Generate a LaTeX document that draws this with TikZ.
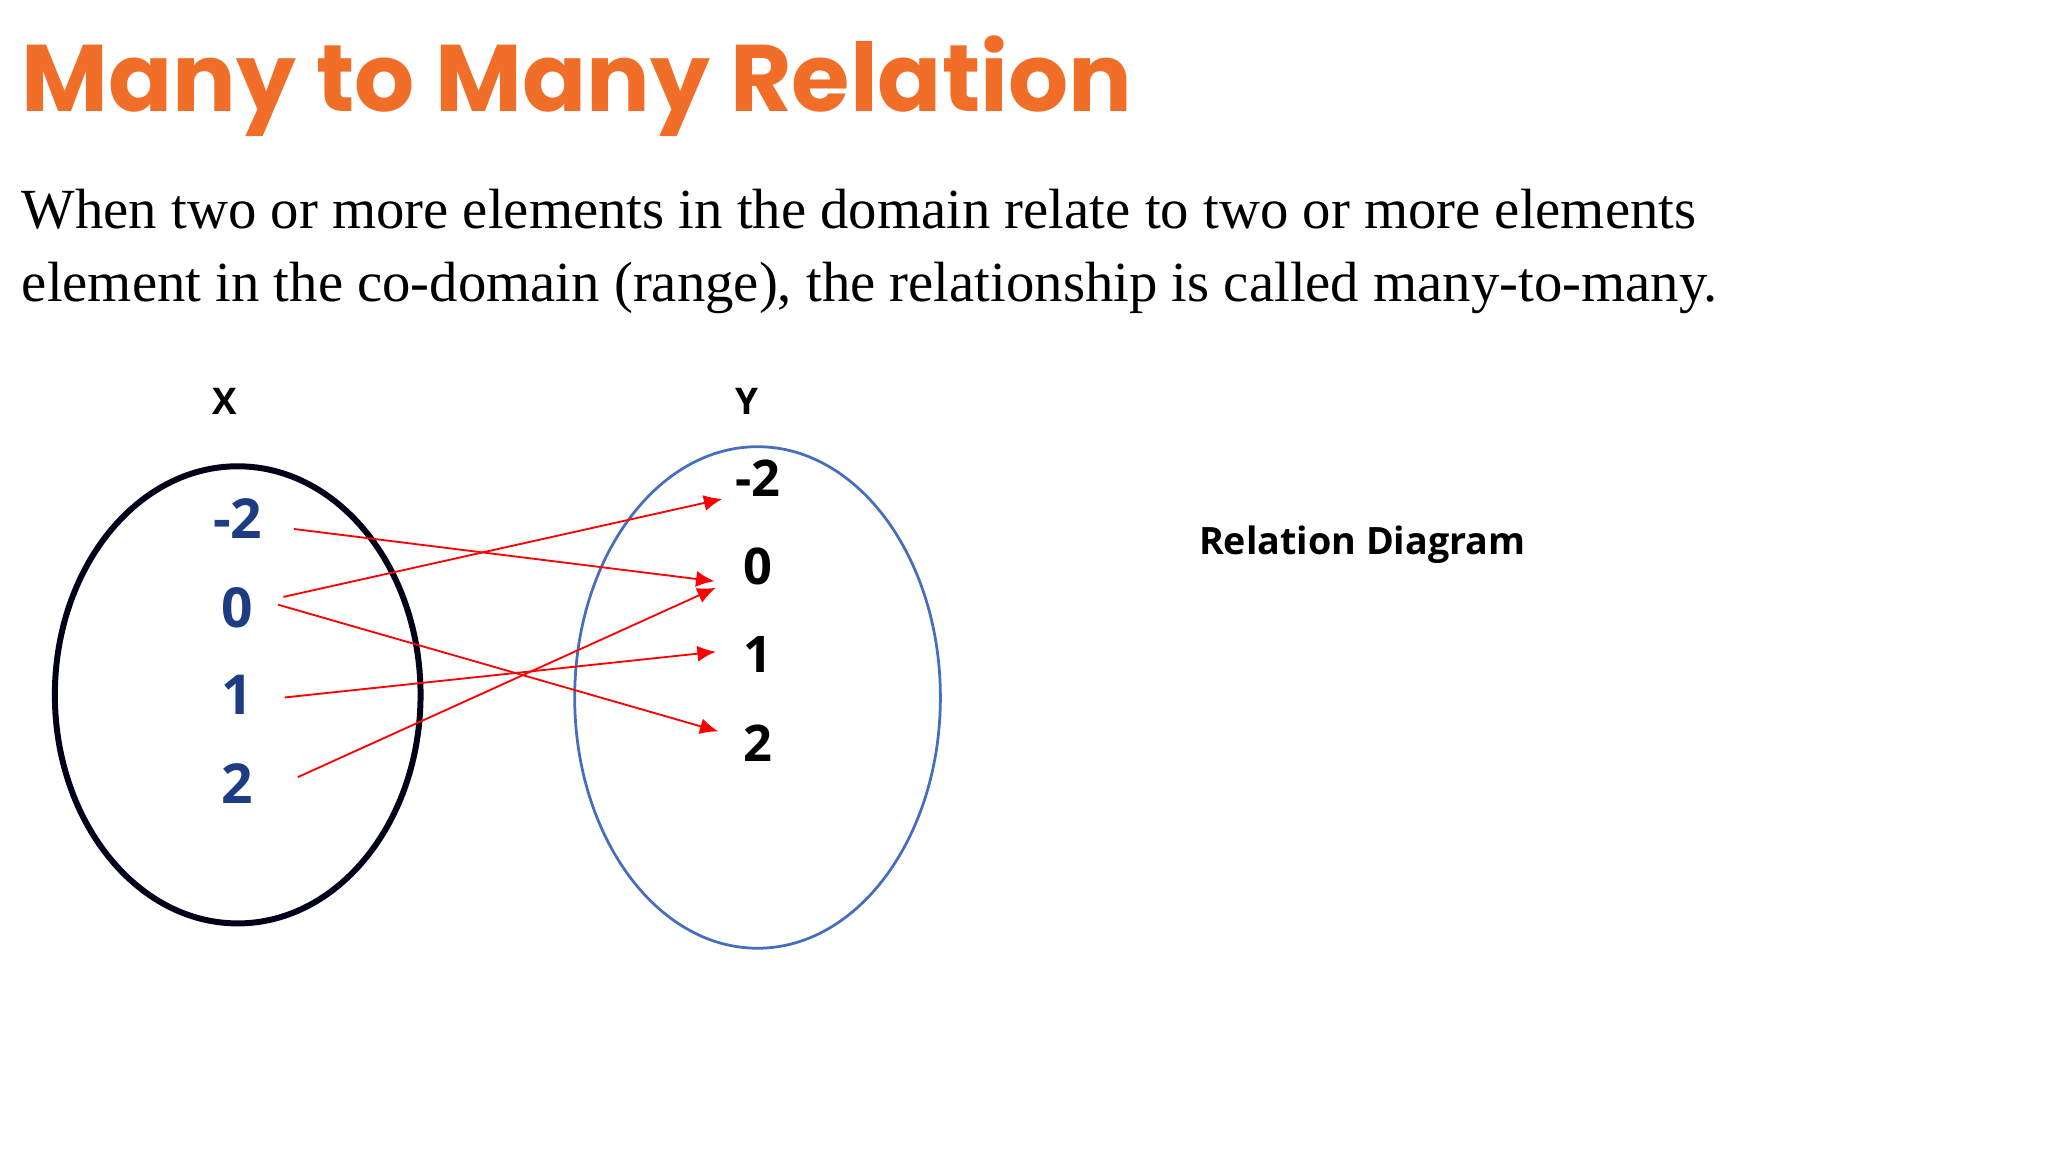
\documentclass[tikz,border=0pt]{standalone}
\usepackage{fontspec}
\setmainfont{Liberation Serif}
\newfontfamily\titlefont{Poppins}
\newfontfamily\labfont{Open Sans}
\usetikzlibrary{arrows.meta}
\definecolor{ttl}{RGB}{240,110,40}
\definecolor{xblue}{RGB}{30,60,130}
\definecolor{yell}{RGB}{70,110,190}
\tikzset{rel/.style={red,line width=0.4pt,-{Latex[length=4pt,width=3.5pt]}},
 xnum/.style={font=\labfont\bfseries\fontsize{12}{14}\selectfont,text=xblue},
 ynum/.style={font=\labfont\bfseries\fontsize{11}{13}\selectfont,text=black}}
\begin{document}
\begin{tikzpicture}[x=0.01cm,y=-0.01cm]
\useasboundingbox (0,0) rectangle (1568,882);
\node[anchor=west,inner sep=0,text=ttl,font=\titlefont\bfseries\fontsize{20.6}{24}\selectfont] (title) at (16,66) {Many to Many Relation};
\node[anchor=north west,inner sep=0,align=left,font=\fontsize{12.35}{16}\selectfont] (body) at (16,144) {When two or more elements in the domain relate to two or more elements\\element in the co-domain (range), the relationship is called many-to-many.};
\draw[line width=1.3pt,black!90!blue] (182,532) ellipse [x radius=140,y radius=175];
\draw[yell,line width=0.6pt] (580,534) ellipse [x radius=140,y radius=192];
\node[font=\labfont\bfseries\fontsize{8}{10}\selectfont] (X) at (172,307) {X};
\node[font=\labfont\bfseries\fontsize{8}{10}\selectfont] (Y) at (572,307) {Y};
\node[xnum] (xm2) at (182,397) {-2};
\node[xnum] (x0) at (182,465) {0};
\node[xnum] (x1) at (182,532) {1};
\node[xnum] (x2) at (182,600) {2};
\node[ynum] (ym2) at (580,366) {-2};
\node[ynum] (y0) at (580,434) {0};
\node[ynum] (y1) at (580,501) {1};
\node[ynum] (y2) at (580,569) {2};
\node[font=\labfont\bfseries\fontsize{8.2}{10}\selectfont] (rd) at (1043,417) {Relation Diagram};
\coordinate (a1) at (225,405); \coordinate (b1) at (547,445);
\coordinate (a2) at (217,457); \coordinate (b2) at (553,382);
\coordinate (a3) at (213,463); \coordinate (b3) at (550,560);
\coordinate (a4) at (218,534); \coordinate (b4) at (548,499);
\coordinate (a5) at (228,595); \coordinate (b5) at (548,450);
\foreach \i in {1,...,5} \draw[rel] (a\i) -- (b\i);
\end{tikzpicture}
\end{document}
